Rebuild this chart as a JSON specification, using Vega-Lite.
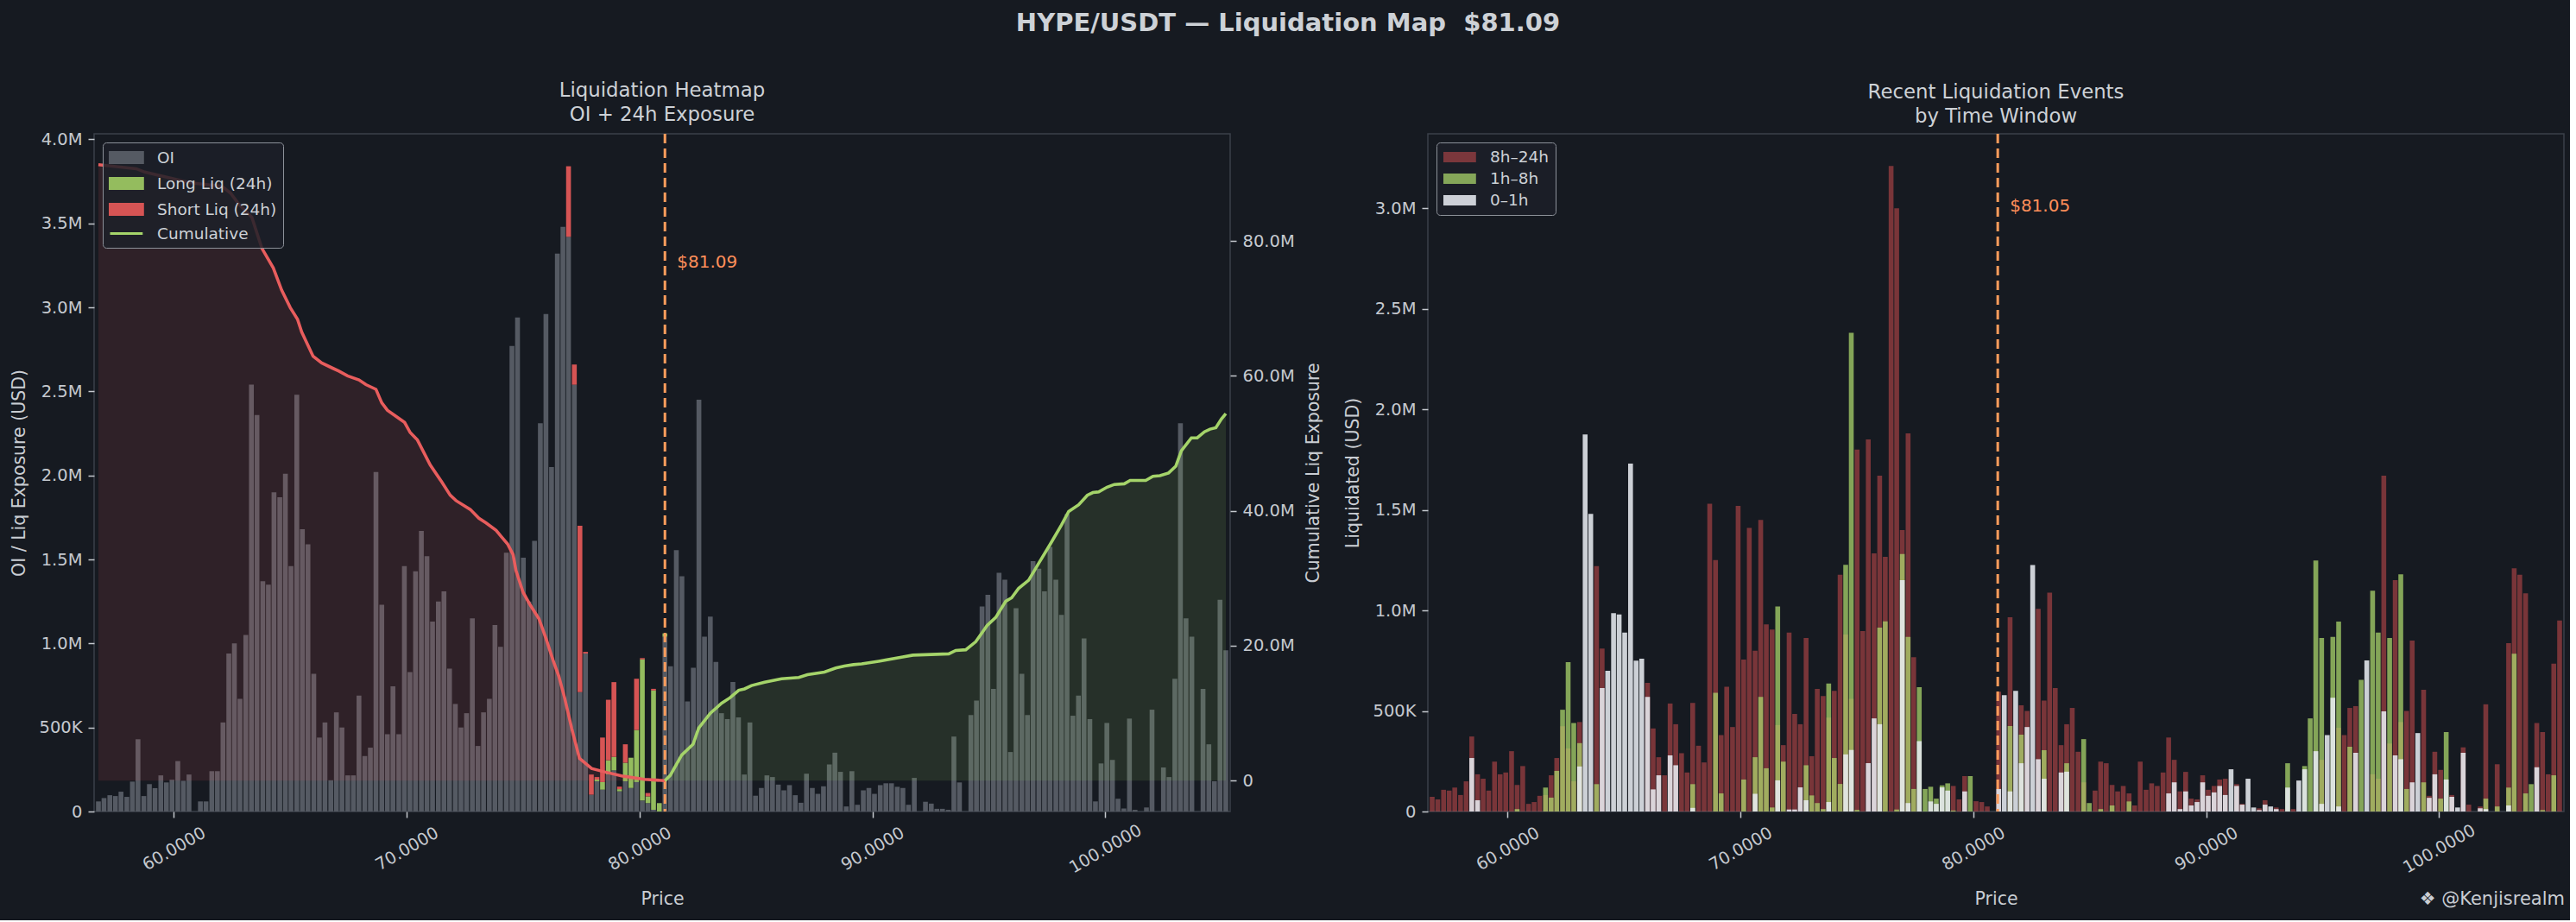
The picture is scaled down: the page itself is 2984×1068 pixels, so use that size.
{
  "$schema": "https://vega.github.io/schema/vega-lite/v6.json",
  "background": "#161a21",
  "padding": {"left": 12, "top": 12, "right": 5, "bottom": 13},
  "title": {"text": "HYPE/USDT — Liquidation Map \u00a0$81.09", "fontSize": 29, "fontWeight": "bold", "anchor": "middle", "offset": 51, "color": "#cdd1d6"},
  "spacing": 24,
  "resolve": {"scale": {"color": "independent"}},
  "datasets": {
    "oi": [
      {"p":56.76,"base":60000},{"p":57.00,"base":80000},{"p":57.25,"base":97000},{"p":57.49,"base":92000},
      {"p":57.73,"base":118000},{"p":57.98,"base":87000},{"p":58.22,"base":178000},{"p":58.46,"base":430000},
      {"p":58.71,"base":92000},{"p":58.95,"base":163000},{"p":59.19,"base":139000},{"p":59.44,"base":215000},
      {"p":59.68,"base":173000},{"p":59.92,"base":189000},{"p":60.17,"base":300000},{"p":60.41,"base":183000},
      {"p":60.65,"base":220000},{"p":61.14,"base":60000},{"p":61.38,"base":60000},{"p":61.63,"base":240000},
      {"p":61.87,"base":240000},{"p":62.11,"base":530000},{"p":62.36,"base":940000},{"p":62.60,"base":1000000},
      {"p":62.84,"base":670000},{"p":63.09,"base":1050000},{"p":63.33,"base":2540000},{"p":63.57,"base":2360000},
      {"p":63.82,"base":1370000},{"p":64.06,"base":1350000},{"p":64.30,"base":1900000},{"p":64.55,"base":1870000},
      {"p":64.79,"base":2010000},{"p":65.03,"base":1460000},{"p":65.28,"base":2480000},{"p":65.52,"base":1680000},
      {"p":65.76,"base":1590000},{"p":66.01,"base":820000},{"p":66.25,"base":440000},{"p":66.49,"base":530000},
      {"p":66.74,"base":186000},{"p":66.98,"base":590000},{"p":67.22,"base":500000},{"p":67.47,"base":215000},
      {"p":67.71,"base":215000},{"p":67.95,"base":690000},{"p":68.20,"base":330000},{"p":68.44,"base":380000},
      {"p":68.68,"base":2020000},{"p":68.93,"base":1230000},{"p":69.17,"base":460000},{"p":69.41,"base":745000},
      {"p":69.66,"base":460000},{"p":69.90,"base":1460000},{"p":70.14,"base":830000},{"p":70.38,"base":1430000},
      {"p":70.63,"base":1670000},{"p":70.87,"base":1520000},{"p":71.11,"base":1130000},{"p":71.36,"base":1250000},
      {"p":71.60,"base":1310000},{"p":71.84,"base":850000},{"p":72.09,"base":640000},{"p":72.33,"base":500000},
      {"p":72.57,"base":585000},{"p":72.82,"base":1150000},{"p":73.06,"base":390000},{"p":73.30,"base":590000},
      {"p":73.55,"base":670000},{"p":73.79,"base":1110000},{"p":74.03,"base":980000},{"p":74.28,"base":1540000},
      {"p":74.52,"base":2770000},{"p":74.76,"base":2940000},{"p":75.01,"base":1510000},{"p":75.25,"base":1250000},
      {"p":75.49,"base":1610000},{"p":75.74,"base":2310000},{"p":75.98,"base":2960000},{"p":76.22,"base":2050000},
      {"p":76.47,"base":3320000},{"p":76.71,"base":3480000},
      {"p":76.95,"base":3420000,"short":420000},{"p":77.20,"base":2540000,"short":120000},
      {"p":77.44,"base":710000,"short":990000},{"p":77.68,"base":940000,"short":10000},
      {"p":77.93,"base":100000,"short":120000},{"p":78.17,"base":180000,"long":10000,"short":15000},
      {"p":78.41,"base":130000,"long":45000,"short":265000},{"p":78.66,"base":220000,"long":85000,"short":360000},
      {"p":78.90,"base":245000,"long":80000,"short":445000},{"p":79.14,"base":120000,"long":13000,"short":15000},
      {"p":79.39,"base":180000,"long":110000,"short":110000},{"p":79.63,"base":140000,"long":180000},
      {"p":79.87,"base":175000,"long":310000,"short":305000},{"p":80.12,"base":65000,"long":840000,"short":8000},
      {"p":80.36,"base":50000,"long":40000,"short":20000},{"p":80.60,"base":10000,"long":710000,"short":10000},
      {"p":80.85,"base":0,"long":50000},{"p":81.09,"base":1040000,"long":20000},
      {"p":81.33,"base":865000},{"p":81.58,"base":1555000},{"p":81.82,"base":1400000},{"p":82.06,"base":655000},
      {"p":82.31,"base":855000},{"p":82.55,"base":2450000},{"p":82.79,"base":1040000},{"p":83.04,"base":1160000},
      {"p":83.28,"base":890000},{"p":83.52,"base":585000},{"p":83.77,"base":550000},{"p":84.01,"base":770000},
      {"p":84.25,"base":560000},{"p":84.50,"base":220000},{"p":84.74,"base":530000},{"p":84.98,"base":94000},
      {"p":85.23,"base":140000},{"p":85.47,"base":215000},{"p":85.71,"base":205000},{"p":85.96,"base":160000},
      {"p":86.20,"base":126000},{"p":86.44,"base":157000},{"p":86.69,"base":97000},{"p":86.93,"base":52000},
      {"p":87.17,"base":225000},{"p":87.42,"base":140000},{"p":87.66,"base":105000},{"p":87.90,"base":150000},
      {"p":88.15,"base":280000},{"p":88.39,"base":350000},{"p":88.63,"base":236000},{"p":88.88,"base":30000},
      {"p":89.12,"base":240000},{"p":89.36,"base":40000},{"p":89.61,"base":126000},{"p":89.85,"base":140000},
      {"p":90.09,"base":105000},{"p":90.34,"base":157000},{"p":90.58,"base":168000},{"p":90.82,"base":168000},
      {"p":91.07,"base":147000},{"p":91.31,"base":140000},{"p":91.55,"base":40000},{"p":91.80,"base":200000},
      {"p":92.28,"base":58000},{"p":92.53,"base":47000},{"p":92.77,"base":16000},{"p":93.01,"base":16000},
      {"p":93.26,"base":10000},{"p":93.50,"base":446000},{"p":93.74,"base":173000},{"p":94.23,"base":574000},
      {"p":94.47,"base":660000},{"p":94.71,"base":1220000},{"p":94.96,"base":1290000},{"p":95.20,"base":730000},
      {"p":95.44,"base":1420000},{"p":95.69,"base":1380000},{"p":95.93,"base":354000},{"p":96.17,"base":1210000},
      {"p":96.42,"base":820000},{"p":96.66,"base":574000},{"p":96.90,"base":1490000},{"p":97.15,"base":1445000},
      {"p":97.39,"base":1310000},{"p":97.63,"base":1575000},{"p":97.88,"base":1380000},{"p":98.12,"base":1170000},
      {"p":98.36,"base":1770000},{"p":98.61,"base":570000},{"p":98.85,"base":690000},{"p":99.09,"base":1030000},
      {"p":99.34,"base":550000},{"p":99.58,"base":60000},{"p":99.82,"base":286000},{"p":100.07,"base":527000},
      {"p":100.31,"base":307000},{"p":100.55,"base":76000},{"p":100.80,"base":18000},{"p":101.04,"base":553000},
      {"p":101.28,"base":10000},{"p":101.77,"base":24000},{"p":102.01,"base":606000},{"p":102.50,"base":262000},
      {"p":102.74,"base":205000},{"p":102.99,"base":790000},{"p":103.23,"base":2310000},{"p":103.47,"base":1150000},
      {"p":103.72,"base":1040000},{"p":104.20,"base":730000},{"p":104.45,"base":400000},{"p":104.69,"base":180000},
      {"p":104.93,"base":1260000},{"p":105.18,"base":960000}
    ],
    "cumL": [
      {"p":56.76,"cum":91300000},{"p":58.38,"cum":90700000},{"p":58.75,"cum":90200000},{"p":60.71,"cum":88600000},
      {"p":62.06,"cum":88100000},{"p":62.43,"cum":87100000},{"p":62.80,"cum":85400000},{"p":63.35,"cum":83500000},
      {"p":63.78,"cum":78900000},{"p":64.27,"cum":76000000},{"p":64.63,"cum":72700000},{"p":65.00,"cum":70100000},
      {"p":65.31,"cum":68400000},{"p":65.49,"cum":66500000},{"p":65.98,"cum":62900000},{"p":66.35,"cum":61900000},
      {"p":66.84,"cum":61100000},{"p":67.09,"cum":60700000},{"p":67.46,"cum":60000000},{"p":67.95,"cum":59400000},
      {"p":68.25,"cum":58700000},{"p":68.68,"cum":58000000},{"p":68.93,"cum":56000000},{"p":69.17,"cum":54900000},
      {"p":69.54,"cum":54000000},{"p":69.91,"cum":53100000},{"p":70.15,"cum":51600000},{"p":70.46,"cum":50500000},
      {"p":71.01,"cum":46800000},{"p":71.50,"cum":44300000},{"p":71.87,"cum":42300000},{"p":72.12,"cum":41500000},
      {"p":72.73,"cum":40200000},{"p":73.10,"cum":38900000},{"p":73.41,"cum":38200000},{"p":73.84,"cum":37100000},
      {"p":74.08,"cum":36100000},{"p":74.33,"cum":35100000},{"p":74.57,"cum":33500000},{"p":74.69,"cum":31200000},
      {"p":75.00,"cum":27900000},{"p":75.31,"cum":26000000},{"p":75.68,"cum":24000000},{"p":75.98,"cum":21100000},
      {"p":76.29,"cum":17800000},{"p":76.53,"cum":15500000},{"p":76.78,"cum":12300000},{"p":77.09,"cum":7700000},
      {"p":77.42,"cum":3300000},{"p":77.94,"cum":1800000},{"p":78.50,"cum":1300000},{"p":79.23,"cum":700000},
      {"p":80.21,"cum":200000},{"p":81.09,"cum":0}
    ],
    "cumR": [
      {"p":81.09,"cum":0},{"p":81.32,"cum":800000},{"p":81.81,"cum":3800000},{"p":82.30,"cum":5400000},
      {"p":82.54,"cum":7800000},{"p":83.04,"cum":10000000},{"p":83.53,"cum":11500000},{"p":83.89,"cum":12300000},
      {"p":84.26,"cum":13400000},{"p":84.51,"cum":13600000},{"p":84.81,"cum":14100000},{"p":85.37,"cum":14600000},
      {"p":86.10,"cum":15100000},{"p":86.84,"cum":15300000},{"p":87.21,"cum":15700000},{"p":87.94,"cum":16100000},
      {"p":88.43,"cum":16700000},{"p":88.80,"cum":17000000},{"p":89.19,"cum":17200000},{"p":89.54,"cum":17300000},
      {"p":90.27,"cum":17700000},{"p":91.25,"cum":18300000},{"p":91.74,"cum":18600000},{"p":93.28,"cum":18800000},
      {"p":93.58,"cum":19300000},{"p":94.01,"cum":19400000},{"p":94.44,"cum":20600000},{"p":94.93,"cum":23000000},
      {"p":95.30,"cum":24200000},{"p":95.73,"cum":26600000},{"p":95.98,"cum":27100000},{"p":96.28,"cum":28500000},
      {"p":96.71,"cum":29700000},{"p":97.14,"cum":32200000},{"p":97.63,"cum":35000000},{"p":98.12,"cum":37900000},
      {"p":98.43,"cum":39900000},{"p":98.86,"cum":40900000},{"p":99.23,"cum":42300000},{"p":99.47,"cum":42700000},
      {"p":99.72,"cum":42800000},{"p":100.08,"cum":43500000},{"p":100.39,"cum":43900000},{"p":100.82,"cum":44000000},
      {"p":101.07,"cum":44500000},{"p":101.74,"cum":44500000},{"p":102.05,"cum":45100000},{"p":102.35,"cum":45200000},
      {"p":102.72,"cum":45600000},{"p":103.03,"cum":46600000},{"p":103.27,"cum":48900000},{"p":103.70,"cum":50800000},
      {"p":103.95,"cum":50800000},{"p":104.26,"cum":51700000},{"p":104.50,"cum":52100000},{"p":104.75,"cum":52300000},
      {"p":104.99,"cum":53600000},{"p":105.18,"cum":54400000}
    ],
    "ev": [
      {"p":56.76,"h24":73000},{"p":57.00,"h24":60000},{"p":57.25,"h24":108000},{"p":57.49,"h24":104000},
      {"p":57.73,"h24":119000},{"p":57.98,"h24":82000},{"p":58.22,"h24":150000},{"p":58.46,"h24":373000,"h1":266000},
      {"p":58.71,"h24":185000,"h1":56000},{"p":58.95,"h24":163000},{"p":59.19,"h24":104000},{"p":59.44,"h24":248000},
      {"p":59.68,"h24":185000},{"p":59.92,"h24":194000},{"p":60.17,"h24":300000},{"p":60.41,"h24":132000,"h8":12000},
      {"p":60.65,"h24":226000},{"p":60.90,"h24":38000},{"p":61.14,"h24":47000},{"p":61.38,"h24":78000},
      {"p":61.63,"h24":82000,"h8":119000},{"p":61.87,"h24":180000,"h8":69000},{"p":62.11,"h24":266000,"h8":202000},
      {"p":62.36,"h24":424000,"h8":506000},{"p":62.60,"h24":314000,"h8":743000},{"p":62.84,"h24":150000,"h8":440000},
      {"p":63.09,"h24":445000,"h8":340000,"h1":224000},{"p":63.33,"h1":1875000},{"p":63.57,"h1":1480000},
      {"p":63.82,"h24":1220000,"h8":136000},{"p":64.06,"h24":810000,"h1":614000},{"p":64.30,"h1":700000},
      {"p":64.55,"h1":986000},{"p":64.79,"h1":980000},{"p":65.03,"h1":890000},{"p":65.28,"h1":1730000},
      {"p":65.52,"h1":750000},{"p":65.76,"h1":760000},{"p":66.01,"h24":640000,"h1":570000},
      {"p":66.25,"h24":413000,"h1":110000},{"p":66.49,"h24":270000,"h1":180000},{"p":66.74,"h24":180000},
      {"p":66.98,"h24":537000,"h1":279000},{"p":67.22,"h24":434000,"h1":230000},{"p":67.47,"h24":290000},
      {"p":67.71,"h24":194000},{"p":67.95,"h24":540000,"h8":136000,"h1":18000},{"p":68.20,"h24":327000},
      {"p":68.44,"h24":244000},{"p":68.68,"h24":1530000},{"p":68.93,"h24":1250000,"h8":590000},
      {"p":69.17,"h24":380000,"h8":90000},{"p":69.41,"h24":620000},{"p":69.66,"h24":420000},{"p":69.90,"h24":1520000},
      {"p":70.14,"h24":756000,"h8":159000},{"p":70.38,"h24":1410000},{"p":70.63,"h24":800000,"h8":270000,"h1":88000},
      {"p":70.87,"h24":1450000,"h8":570000},{"p":71.11,"h24":930000,"h8":215000},{"p":71.36,"h24":905000,"h8":20000},
      {"p":71.60,"h24":430000,"h8":1020000,"h1":155000},{"p":71.84,"h24":330000,"h8":248000},
      {"p":72.09,"h24":890000,"h1":10000},{"p":72.33,"h24":485000,"h1":10000},{"p":72.57,"h24":434000,"h1":120000},
      {"p":72.82,"h24":863000,"h8":230000,"h1":56000},{"p":73.06,"h24":275000,"h8":80000},
      {"p":73.30,"h24":610000,"h8":42000},{"p":73.55,"h24":574000,"h8":12000},
      {"p":73.79,"h24":467000,"h8":636000,"h1":47000},{"p":74.03,"h24":600000,"h8":266000},
      {"p":74.28,"h24":1177000,"h8":137000},{"p":74.52,"h24":880000,"h8":1227000,"h1":284000},
      {"p":74.76,"h24":560000,"h8":2380000,"h1":306000},{"p":75.01,"h24":1800000,"h8":8000},{"p":75.25,"h24":897000},
      {"p":75.49,"h24":1850000,"h1":240000},{"p":75.74,"h24":1284000,"h1":463000},
      {"p":75.98,"h24":1670000,"h8":914000,"h1":434000},{"p":76.22,"h24":1266000,"h8":945000},
      {"p":76.47,"h24":3210000},{"p":76.71,"h24":3000000,"h8":10000},
      {"p":76.95,"h24":1400000,"h8":1280000,"h1":1150000},{"p":77.20,"h24":1880000,"h8":868000,"h1":42000},
      {"p":77.44,"h24":767000,"h8":112000},{"p":77.68,"h8":618000,"h1":350000},{"p":77.93,"h8":112000},
      {"p":78.17,"h8":123000,"h1":50000},{"p":78.41,"h8":64000,"h1":38000},{"p":78.66,"h8":130000,"h1":120000},
      {"p":78.90,"h8":140000,"h1":104000},{"p":79.14,"h24":127000,"h8":5000},{"p":79.39,"h24":60000},
      {"p":79.63,"h24":176000,"h1":100000},{"p":79.87,"h8":176000},{"p":80.12,"h24":51000},{"p":80.36,"h24":47000},
      {"p":80.60,"h24":25000},{"p":81.09,"h24":596000,"h1":112000},{"p":81.33,"h1":578000},
      {"p":81.58,"h24":966000,"h8":425000,"h1":100000},{"p":81.82,"h1":600000},
      {"p":82.06,"h24":528000,"h8":382000,"h1":240000},{"p":82.31,"h24":500000,"h1":420000},{"p":82.55,"h1":1226000},
      {"p":82.79,"h24":1008000,"h1":260000},{"p":83.04,"h24":552000,"h8":305000,"h1":163000},{"p":83.28,"h24":1088000},
      {"p":83.52,"h24":614000},{"p":83.77,"h24":330000,"h1":194000},{"p":84.01,"h24":434000,"h8":240000,"h1":198000},
      {"p":84.25,"h24":515000},{"p":84.50,"h24":297000},{"p":84.74,"h24":145000,"h8":360000},{"p":84.98,"h8":42000},
      {"p":85.23,"h24":104000},{"p":85.47,"h24":248000,"h8":12000},{"p":85.71,"h24":240000},
      {"p":85.96,"h24":132000,"h8":30000},{"p":86.20,"h24":100000},{"p":86.44,"h24":127000},
      {"p":86.69,"h24":90000,"h8":50000},{"p":86.93,"h24":30000},{"p":87.17,"h24":248000},{"p":87.42,"h24":108000},
      {"p":87.66,"h24":140000},{"p":87.90,"h24":127000},{"p":88.15,"h24":194000},{"p":88.39,"h24":368000,"h1":90000},
      {"p":88.63,"h24":257000,"h1":145000},{"p":88.88,"h24":100000,"h1":12000},{"p":89.12,"h24":197000,"h1":100000},
      {"p":89.36,"h24":64000,"h1":30000},{"p":89.61,"h24":60000,"h1":47000},{"p":89.85,"h24":180000,"h1":145000},
      {"p":90.09,"h24":108000,"h1":78000},{"p":90.34,"h24":127000,"h1":95000},{"p":90.58,"h24":159000,"h1":127000},
      {"p":90.82,"h24":163000,"h1":82000},{"p":91.07,"h1":210000},{"p":91.31,"h24":136000,"h1":127000},
      {"p":91.55,"h24":38000,"h1":34000},{"p":91.80,"h1":163000},{"p":92.04,"h1":20000},
      {"p":92.28,"h24":16000,"h1":7000},{"p":92.53,"h24":56000,"h1":34000},{"p":92.77,"h1":25000},
      {"p":93.01,"h24":20000,"h1":12000},{"p":93.26,"h24":12000},{"p":93.50,"h8":240000,"h1":119000},
      {"p":93.74,"h24":12000},{"p":93.98,"h1":154000},{"p":94.23,"h8":226000,"h1":210000},{"p":94.47,"h8":463000},
      {"p":94.71,"h8":1248000,"h1":300000},{"p":94.96,"h24":257000,"h8":863000,"h1":38000},{"p":95.20,"h1":380000},
      {"p":95.44,"h8":868000,"h1":566000},{"p":95.69,"h24":416000,"h8":944000,"h1":25000},{"p":95.93,"h24":380000},
      {"p":96.17,"h24":515000,"h8":322000},{"p":96.42,"h24":524000,"h1":292000},{"p":96.66,"h8":655000},
      {"p":96.90,"h1":751000},{"p":97.15,"h24":185000,"h8":1098000},{"p":97.39,"h24":163000,"h8":890000},
      {"p":97.63,"h24":1670000,"h1":498000},{"p":97.88,"h24":338000,"h8":863000},{"p":98.12,"h24":1150000,"h1":279000},
      {"p":98.36,"h24":445000,"h8":1180000,"h1":260000},{"p":98.61,"h24":500000,"h8":112000},
      {"p":98.85,"h24":850000,"h1":145000},{"p":99.09,"h1":390000},{"p":99.34,"h24":605000,"h8":145000},
      {"p":99.58,"h24":78000,"h1":68000},{"p":99.82,"h24":297000,"h1":185000},{"p":100.07,"h24":207000,"h8":64000},
      {"p":100.31,"h8":395000,"h1":159000},{"p":100.55,"h24":82000,"h1":73000},{"p":100.80,"h1":20000},
      {"p":101.04,"h24":319000,"h1":292000},{"p":101.28,"h24":34000},{"p":101.77,"h24":25000,"h1":16000},
      {"p":102.01,"h24":533000,"h8":64000,"h1":12000},{"p":102.50,"h24":235000,"h8":25000},
      {"p":102.99,"h24":837000,"h8":119000,"h1":30000},{"p":103.23,"h24":1210000,"h8":785000},{"p":103.47,"h24":1177000},
      {"p":103.72,"h24":1085000,"h8":90000},{"p":103.96,"h8":136000},{"p":104.20,"h24":440000,"h1":220000},
      {"p":104.45,"h24":395000,"h8":7000},{"p":104.69,"h24":185000},{"p":104.93,"h24":735000,"h8":180000},
      {"p":105.18,"h24":950000}
    ]
  },
  "hconcat": [
    {
      "width": 1316,
      "height": 785,
      "title": {"text": ["Liquidation Heatmap", "OI + 24h Exposure"]},
      "layer": [
        {
          "layer": [
            {
              "data": {"name": "oi"},
              "transform": [
                {"fold": ["base", "long", "short"], "as": ["series", "value"]},
                {"filter": "isValid(datum.value)"}
              ],
              "mark": {"type": "bar", "size": 5.6, "clip": true},
              "encoding": {
                "x": {"field": "p", "type": "quantitative", "title": "Price",
                      "scale": {"domain": [56.76, 105.18], "nice": false, "zero": false},
                      "axis": {"values": [60, 70, 80, 90, 100], "format": ".4f"}},
                "y": {"field": "value", "type": "quantitative", "stack": "zero",
                      "title": "OI / Liq Exposure (USD)",
                      "scale": {"domain": [0, 4033000], "nice": false},
                      "axis": {"values": [0, 500000, 1000000, 1500000, 2000000, 2500000, 3000000, 3500000, 4000000],
                               "labelExpr": "datum.value >= 1000000 ? format(datum.value / 1000000, '.1f') + 'M' : datum.value >= 1000 ? format(datum.value / 1000, '.0f') + 'K' : '0'"}},
                "color": {"field": "series", "type": "nominal",
                          "scale": {"domain": ["base", "long", "short", "cum"], "range": ["#555a63", "#94bc5e", "#d65454", "#a5d46a"]},
                          "legend": {"title": null, "labelOffset": 35,
                                     "labelExpr": "datum.label == 'base' ? 'OI' : datum.label == 'long' ? 'Long Liq (24h)' : datum.label == 'short' ? 'Short Liq (24h)' : 'Cumulative'",
                                     "encode": {"symbols": {"update": {
                                       "shape": {"signal": "datum.value == 'cum' ? 'M-1,0H3.2' : 'M-1,-0.67H3.2V0.67H-1Z'"},
                                       "stroke": {"signal": "datum.value == 'cum' ? '#a5d46a' : 'transparent'"},
                                       "strokeWidth": {"value": 3}}}}}},
                "order": {"field": "series", "sort": "ascending"}
              }
            },
            {
              "data": {"values": [{}]},
              "mark": {"type": "rule", "color": "#ff9d5c", "strokeWidth": 3, "strokeDash": [11, 6]},
              "encoding": {"x": {"datum": 81.09}}
            },
            {
              "data": {"values": [{}]},
              "mark": {"type": "text", "text": "$81.09", "align": "left", "baseline": "middle", "dx": 14, "fontSize": 20, "color": "#ff8f5a"},
              "encoding": {"x": {"datum": 81.09}, "y": {"datum": 3270000}}
            }
          ]
        },
        {
          "layer": [
            {
              "data": {"name": "cumL"},
              "mark": {"type": "area", "color": "#e65a5a", "opacity": 0.12, "clip": true},
              "encoding": {
                "x": {"field": "p", "type": "quantitative"},
                "y": {"field": "cum", "type": "quantitative", "title": "Cumulative Liq Exposure",
                      "scale": {"domain": [-4570000, 95870000], "nice": false, "zero": false},
                      "axis": {"orient": "right", "values": [0, 20000000, 40000000, 60000000, 80000000],
                               "titleAngle": 270, "titleBaseline": "top",
                               "labelExpr": "datum.value >= 1000000 ? format(datum.value / 1000000, '.1f') + 'M' : '0'"}},
                "y2": {"datum": 0}
              }
            },
            {
              "data": {"name": "cumR"},
              "mark": {"type": "area", "color": "#a0d764", "opacity": 0.12, "clip": true},
              "encoding": {
                "x": {"field": "p", "type": "quantitative"},
                "y": {"field": "cum", "type": "quantitative"},
                "y2": {"datum": 0}
              }
            },
            {
              "data": {"name": "cumL"},
              "mark": {"type": "line", "color": "#e85d5d", "strokeWidth": 3.6, "clip": true},
              "encoding": {
                "x": {"field": "p", "type": "quantitative"},
                "y": {"field": "cum", "type": "quantitative"}
              }
            },
            {
              "data": {"name": "cumR"},
              "mark": {"type": "line", "strokeWidth": 3.6, "clip": true},
              "encoding": {
                "x": {"field": "p", "type": "quantitative"},
                "y": {"field": "cum", "type": "quantitative"},
                "color": {"datum": "cum"}
              }
            }
          ]
        }
      ],
      "resolve": {"scale": {"y": "independent"}}
    },
    {
      "width": 1316,
      "height": 785,
      "title": {"text": ["Recent Liquidation Events", "by Time Window"]},
      "layer": [
        {
          "data": {"name": "ev"},
          "transform": [
            {"fold": ["h24", "h8", "h1"], "as": ["win", "value"]},
            {"filter": "isValid(datum.value)"}
          ],
          "mark": {"type": "bar", "size": 5.6, "clip": true},
          "encoding": {
            "x": {"field": "p", "type": "quantitative", "title": "Price",
                  "scale": {"domain": [56.76, 105.18], "nice": false, "zero": false},
                  "axis": {"values": [60, 70, 80, 90, 100], "format": ".4f"}},
            "y": {"field": "value", "type": "quantitative", "stack": null, "title": "Liquidated (USD)",
                  "scale": {"domain": [0, 3370000], "nice": false},
                  "axis": {"values": [0, 500000, 1000000, 1500000, 2000000, 2500000, 3000000],
                           "labelExpr": "datum.value >= 1000000 ? format(datum.value / 1000000, '.1f') + 'M' : datum.value >= 1000 ? format(datum.value / 1000, '.0f') + 'K' : '0'"}},
            "color": {"field": "win", "type": "nominal",
                      "scale": {"domain": ["h24", "h8", "h1"], "range": ["rgba(220,80,82,0.5)", "rgba(175,219,109,0.72)", "rgba(232,236,241,0.87)"]},
                      "legend": {"title": null, "labelOffset": 35, "symbolType": "M-1,-0.67H3.2V0.67H-1Z",
                                 "labelExpr": "datum.label == 'h24' ? '8h–24h' : datum.label == 'h8' ? '1h–8h' : '0–1h'"}}
          }
        },
        {
          "data": {"values": [{}]},
          "mark": {"type": "rule", "color": "#ff9d5c", "strokeWidth": 3, "strokeDash": [11, 6]},
          "encoding": {"x": {"datum": 81.05}}
        },
        {
          "data": {"values": [{}]},
          "mark": {"type": "text", "text": "$81.05", "align": "left", "baseline": "middle", "dx": 14, "fontSize": 20, "color": "#ff8f5a"},
          "encoding": {"x": {"datum": 81.05}, "y": {"datum": 3010000}}
        },
        {
          "data": {"values": [{}]},
          "mark": {"type": "text", "text": "❖ @Kenjisrealm", "align": "right", "baseline": "alphabetic", "dx": 6, "fontSize": 21, "color": "#c9cdd3"},
          "encoding": {"x": {"datum": 105.18}, "y": {"datum": -463000}}
        }
      ]
    }
  ],
  "config": {
    "font": "DejaVu Sans",
    "view": {"stroke": "#3b4049", "strokeWidth": 1.5},
    "title": {"color": "#cdd1d6", "fontSize": 22.8, "fontWeight": "normal", "lineHeight": 28, "offset": 7, "baseline": "bottom"},
    "axis": {
      "domain": false, "grid": false,
      "labelColor": "#c5c9cf", "labelFontSize": 19.5, "labelPadding": 7,
      "titleColor": "#c9cdd3", "titleFontSize": 20.5, "titleFontWeight": "normal", "titlePadding": 12,
      "tickColor": "#c5c9cf", "tickSize": 7, "tickWidth": 1.5
    },
    "axisX": {"labelAngle": -30, "labelAlign": "center", "labelBaseline": "middle", "labelPadding": 36, "titlePadding": 17},
    "legend": {
      "orient": "top-left", "offset": 10, "padding": 7, "cornerRadius": 4,
      "fillColor": "rgba(28,32,40,0.85)", "strokeColor": "#8c9199",
      "labelColor": "#cdd1d6", "labelFontSize": 18.5,
      "symbolSize": 324, "symbolType": "M-1,-0.67H3.2V0.67H-1Z", "rowPadding": 5
    }
  }
}
